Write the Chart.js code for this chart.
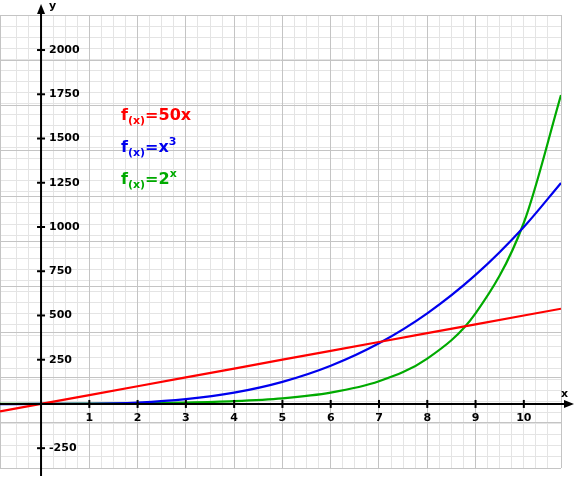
<!DOCTYPE html>
<html>
<head>
<meta charset="utf-8">
<script src="https://cdn.jsdelivr.net/npm/chart.js@4"></script>
<style>
  html, body { margin: 0; padding: 0; background: #fff; }
  #wrap { width: 577px; height: 480px; }
</style>
</head>
<body>
<div id="wrap"><canvas id="chart"></canvas></div>
<script>
"use strict";

// values
const xValues = [-0.85, 0, 1, 2, 3, 4, 5, 6, 7, 8, 9, 10, 10.77];
const linearValues = [-42, 0, 50, 100, 150, 200, 250, 300, 350, 400, 450, 500, 538];
const cubeValues = [-1, 0, 1, 8, 27, 64, 125, 216, 343, 512, 729, 1000, 1249];
const powerValues = [0.6, 1, 2, 4, 8, 16, 32, 64, 128, 256, 512, 1024, 1746];
const xTicks = [1, 2, 3, 4, 5, 6, 7, 8, 9, 10];
const yTicks = [-250, 250, 500, 750, 1000, 1250, 1500, 1750, 2000];

function toPoints(ys) {
  return xValues.map((x, i) => ({ x: x, y: ys[i] }));
}

const axesPlugin = {
  id: "axes",
  afterDatasetsDraw(chart) {
    const ctx = chart.ctx;
    const sx = chart.scales.x;
    const sy = chart.scales.y;
    const x0 = sx.getPixelForValue(0);
    const y0 = sy.getPixelForValue(0);
    ctx.save();
    ctx.strokeStyle = "#000";
    ctx.fillStyle = "#000";
    ctx.lineWidth = 2;
    ctx.beginPath();
    ctx.moveTo(0, y0);
    ctx.lineTo(568, y0);
    ctx.moveTo(x0, 476);
    ctx.lineTo(x0, 10);
    ctx.stroke();
    // arrows
    ctx.beginPath();
    ctx.moveTo(574, y0);
    ctx.lineTo(564, y0 - 4);
    ctx.lineTo(564, y0 + 4);
    ctx.fill();
    ctx.beginPath();
    ctx.moveTo(x0, 4);
    ctx.lineTo(x0 - 4, 14);
    ctx.lineTo(x0 + 4, 14);
    ctx.fill();

    ctx.font = "bold 11px 'DejaVu Sans'";
    ctx.textBaseline = "middle";
    ctx.textAlign = "center";
    xTicks.forEach((t) => {
      const px = sx.getPixelForValue(t);
      ctx.beginPath();
      ctx.moveTo(px, y0 - 4);
      ctx.lineTo(px, y0 + 4);
      ctx.stroke();
      ctx.fillText(String(t), px, y0 + 14);
    });
    ctx.textAlign = "left";
    yTicks.forEach((t) => {
      const py = sy.getPixelForValue(t);
      ctx.beginPath();
      ctx.moveTo(x0 - 4, py);
      ctx.lineTo(x0 + 4, py);
      ctx.stroke();
      ctx.fillText(String(t), x0 + 8, py);
    });
    ctx.fillText("x", 561, y0 - 10);
    ctx.fillText("y", x0 + 8, 6);

    // formulas
    const labels = [
      { y: 116, color: "#ff0000", sup: "", rest: "=50x" },
      { y: 148, color: "#0000ee", sup: "3", rest: "=x" },
      { y: 180, color: "#00aa00", sup: "x", rest: "=2" }
    ];
    labels.forEach((l) => {
      ctx.fillStyle = l.color;
      let x = 121;
      ctx.font = "bold 16px 'DejaVu Sans'";
      ctx.fillText("f", x, l.y);
      x += ctx.measureText("f").width;
      ctx.font = "bold 11px 'DejaVu Sans'";
      ctx.fillText("(x)", x, l.y + 5);
      x += ctx.measureText("(x)").width;
      ctx.font = "bold 16px 'DejaVu Sans'";
      ctx.fillText(l.rest, x, l.y);
      x += ctx.measureText(l.rest).width;
      if (l.sup) {
        ctx.font = "bold 11px 'DejaVu Sans'";
        ctx.fillText(l.sup, x, l.y - 6);
      }
    });
    ctx.restore();
  }
};

const configuration = {
  type: "line",
  data: {
    datasets: [
      { data: toPoints(linearValues), borderColor: "#ff0000" },
      { data: toPoints(cubeValues), borderColor: "#0000ee", cubicInterpolationMode: "monotone" },
      { data: toPoints(powerValues), borderColor: "#00aa00", cubicInterpolationMode: "monotone" }
    ]
  },
  options: {
    responsive: true,
    maintainAspectRatio: false,
    animation: false,
    layout: { padding: { left: 0, right: 16, top: 15, bottom: 12 } },
    elements: { point: { radius: 0 }, line: { borderWidth: 2.2 } },
    plugins: { legend: { display: false }, tooltip: { enabled: false } },
    scales: {
      xMinor: {
        type: "linear", min: -0.85, max: 10.77, display: true,
        ticks: { display: false, stepSize: 0.25 },
        border: { display: false },
        grid: { color: "#e4e4e4", lineWidth: 1, drawTicks: false, tickLength: 0 }
      },
      yMinor: {
        type: "linear", min: -362, max: 2198, position: "left", display: true,
        ticks: { display: false, stepSize: 62.5 },
        border: { display: false },
        grid: { color: "#e4e4e4", lineWidth: 1, drawTicks: false, tickLength: 0 }
      },
      x: {
        type: "linear", min: -0.85, max: 10.77,
        ticks: { display: false, stepSize: 1 },
        border: { display: false },
        grid: { color: "#c4c4c4", lineWidth: 1, drawTicks: false, tickLength: 0 }
      },
      y: {
        type: "linear", min: -362, max: 2198,
        ticks: { display: false, stepSize: 250 },
        border: { display: false },
        grid: { color: "#c4c4c4", lineWidth: 1, drawTicks: false, tickLength: 0 }
      }
    }
  },
  plugins: [axesPlugin]
};

new Chart(document.querySelector("#chart").getContext("2d"), configuration);
</script>
</body>
</html>
